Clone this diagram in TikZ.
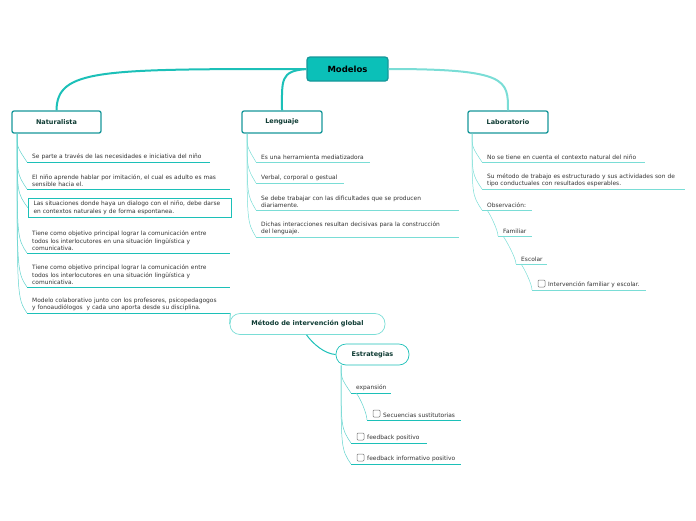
\documentclass[tikz,border=0pt]{standalone}
\usepackage{fontspec}
\setmainfont{DejaVu Sans}
\usetikzlibrary{positioning}
\definecolor{tealfill}{HTML}{0BC0B8}
\definecolor{tealdark}{HTML}{17979A}
\definecolor{tealline}{HTML}{1CC0B8}
\definecolor{teallight}{HTML}{7ADDD6}
\definecolor{titletext}{HTML}{0E3B33}
\tikzset{
  topic/.style={draw=tealdark, line width=1.3pt, rounded corners=2pt, fill=white,
    minimum height=22pt, font=\fontsize{6.5}{7}\selectfont\bfseries, text=titletext},
  soft/.style={draw=teallight, line width=0.7pt, rounded corners=10pt, fill=white,
    minimum height=21pt, font=\fontsize{6.5}{7}\selectfont\bfseries, text=titletext},
  item/.style={anchor=south west, inner xsep=5pt, inner ysep=2pt, align=left,
    font=\fontsize{5.9}{7.4}\selectfont, text=black!80},
  uline/.style={draw=tealline, line width=1pt},
  ulight/.style={draw=teallight, line width=1pt},
  branch/.style={draw=tealline!70, line width=0.5pt},
  lbranch/.style={draw=teallight, line width=0.5pt},
  box/.style={draw=black!55, rounded corners=1pt, minimum size=7pt, inner sep=0pt, line width=0.5pt}
}
\begin{document}
\begin{tikzpicture}[x=1pt,y=-1pt]
\useasboundingbox (0,0) rectangle (696,520);
% central topic
\node[draw=tealdark, fill=tealfill, line width=1.3pt, rounded corners=3pt, minimum width=81pt,
  minimum height=24pt, font=\fontsize{8.5}{10}\selectfont\bfseries] (modelos) at (347.5,69) {Modelos};
\node[topic, minimum width=89pt] (nat) at (56.5,122) {Naturalista};
\node[topic, minimum width=80pt] (len) at (282,122) {Lenguaje};
\node[topic, minimum width=80pt] (lab) at (508,122) {Laboratorio};
\draw[tealline, line width=2pt] (modelos.west) .. controls (100,69) and (57,69) .. (nat.north);
\draw[tealline, line width=2pt] (modelos.west) .. controls (280,71) and (282,80) .. (len.north);
\draw[teallight, line width=2pt] (modelos.east) .. controls (508,69) and (508,80) .. (lab.north);
% Naturalista
\node[item, text width=173pt] (n1) at (27,162) {Se parte a través de las necesidades e iniciativa del niño};
\node[item, text width=193pt] (n2) at (27,189) {El niño aprende hablar por imitación, el cual es adulto es mas\\sensible hacia el.};
\node[item, text width=193pt, draw=tealline, line width=1pt, inner ysep=3pt] (n3) at (28,218) {Las situaciones donde haya un dialogo con el niño, debe darse\\en contextos naturales y de forma espontanea.};
\node[item, text width=193pt] (n4) at (27,253) {Tiene como objetivo principal lograr la comunicación entre\\todos los interlocutores en una situación lingüística y\\comunicativa.};
\node[item, text width=193pt] (n5) at (27,287) {Tiene como objetivo principal lograr la comunicación entre\\todos los interlocutores en una situación lingüística y\\comunicativa.};
\node[item, text width=193pt] (n6) at (27,313) {Modelo colaborativo junto con los profesores, psicopedagogos\\y fonoaudiólogos\ \ y cada uno aporta desde su disciplina.};
\coordinate (nr) at ([xshift=-39.5pt]nat.south);
\foreach \n in {n1,n2,n4,n5,n6} {
  \draw[uline] (\n.south west) -- (\n.south east);
  \draw[branch] (nr) .. controls ([yshift=15pt]nr |- \n.south west) .. (\n.south west);
}
\draw[branch] (nr) .. controls ([yshift=15pt]nr |- n3.west) .. (n3.west);
% Lenguaje
\node[item, text width=104pt] (l1) at (256,162) {Es una herramienta mediatizadora};
\node[item, text width=78pt] (l2) at (256,183) {Verbal, corporal o gestual};
\node[item, text width=193pt] (l3) at (256,210) {Se debe trabajar con las dificultades que se producen\\diariamente.};
\node[item, text width=193pt] (l4) at (256,237) {Dichas interacciones resultan decisivas para la construcción\\del lenguaje.};
\coordinate (lr) at ([xshift=-35pt]len.south);
\foreach \n in {l1,l2,l3,l4} {
  \draw[ulight] (\n.south west) -- (\n.south east);
  \draw[lbranch] (lr) .. controls ([yshift=15pt]lr |- \n.south west) .. (\n.south west);
}
% Laboratorio
\node[item, text width=153pt] (b1) at (482,162) {No se tiene en cuenta el contexto natural del niño};
\node[item, text width=193pt] (b2) at (482,189) {Su método de trabajo es estructurado y sus actividades son de\\tipo conductuales con resultados esperables.};
\node[item, text width=40pt] (b3) at (482,210) {Observación:};
\coordinate (br) at ([xshift=-36pt]lab.south);
\foreach \n in {b1,b2,b3} {
  \draw[ulight] (\n.south west) -- (\n.south east);
  \draw[lbranch] (br) .. controls ([yshift=15pt]br |- \n.south west) .. (\n.south west);
}
\node[item, text width=24pt] (b4) at (498,236) {Familiar};
\node[item, text width=21pt] (b5) at (516,264) {Escolar};
\node[item, text width=104pt] (b6) at (532,290) {\hspace{11pt}Intervención familiar y escolar.};
\node[box] (c6) at ([xshift=9.5pt,yshift=6.5pt]b6.south west) {};
\foreach \a/\n in {b3/b4,b4/b5,b5/b6} {
  \draw[ulight] (\n.south west) -- (\n.south east);
  \draw[lbranch] ([xshift=5pt]\a.south west) .. controls ([xshift=8pt,yshift=-4pt]\a.south west) and ([yshift=6pt]\n.south west) .. (\n.south west);
}
% Metodo
\node[soft, minimum width=155pt] (met) at (307.5,324) {Método de intervención global};
\draw[teallight, line width=1pt] (n6.south east) -- (met.west);
\node[soft, minimum width=73pt, draw=tealline] (est) at (372.5,354.5) {Estrategias};
\draw[tealline, line width=1pt] ([xshift=-1pt]met.south) .. controls (313,344) and (325,354) .. (est.west);
\node[item, text width=30pt] (e1) at (351,393) {expansión};
\node[item, text width=84pt] (e2) at (367,420) {\hspace{11pt}Secuencias sustitutorias};
\node[item, text width=66pt] (e3) at (351,443) {\hspace{11pt}feedback positivo};
\node[item, text width=100pt] (e4) at (351,464) {\hspace{11pt}feedback informativo positivo};
\foreach \n in {e2,e3,e4}
  \node[box] at ([xshift=9.5pt,yshift=6.5pt]\n.south west) {};
\coordinate (er) at ([xshift=-31.5pt]est.south);
\foreach \n in {e1,e3,e4} {
  \draw[uline] (\n.south west) -- (\n.south east);
  \draw[branch] (er) .. controls ([yshift=15pt]er |- \n.south west) .. (\n.south west);
}
\draw[uline] (e2.south west) -- (e2.south east);
\draw[branch] ([xshift=5pt]e1.south west) .. controls ([xshift=9pt,yshift=-4pt]e1.south west) and ([yshift=6pt]e2.south west) .. (e2.south west);
\end{tikzpicture}
\end{document}
